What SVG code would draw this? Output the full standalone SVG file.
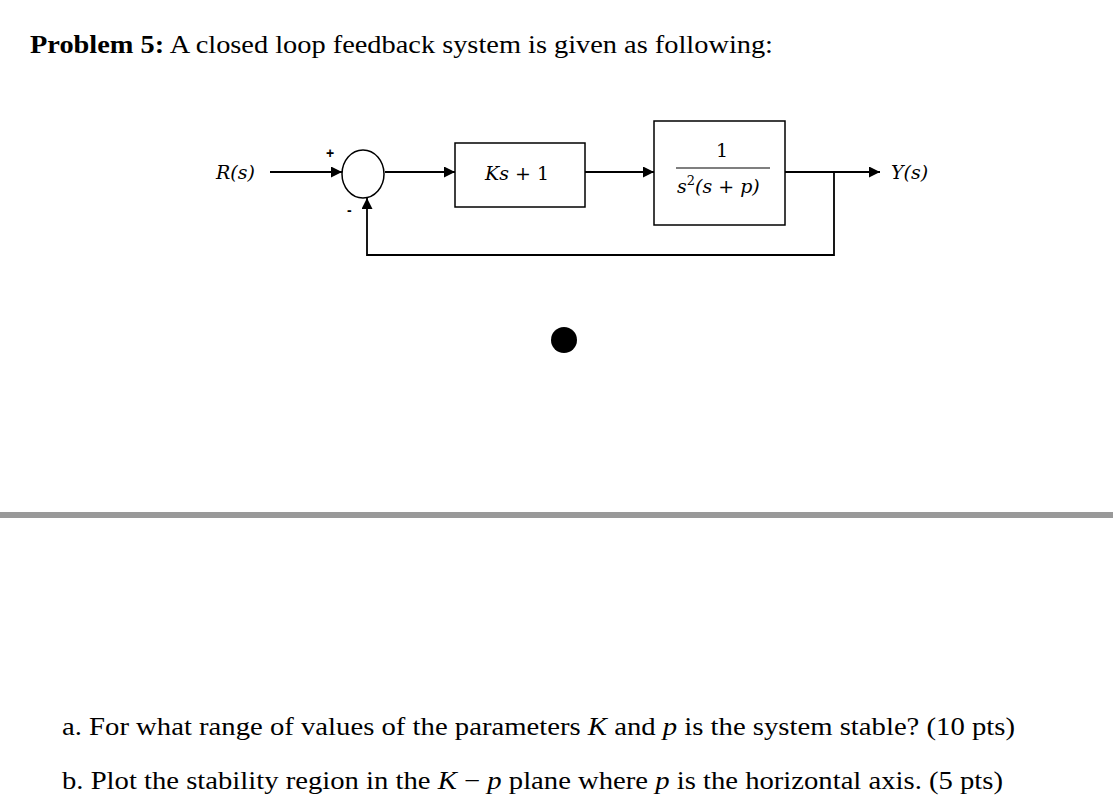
<svg xmlns="http://www.w3.org/2000/svg" width="1113" height="810" viewBox="0 0 1113 810">
<style>
.t{font-family:"Liberation Serif",serif;font-size:25px;fill:#000}
.m{font-family:"DejaVu Serif",serif;font-size:19px;font-style:italic;fill:#000}
.n{font-family:"DejaVu Serif",serif;font-size:19px;fill:#000}
.ln{stroke:#000;stroke-width:1.8;fill:none}
.bx{stroke:#000;stroke-width:1.5;fill:#fff}
</style>
<defs><marker id="b" viewBox="0 0 10 10" refX="10" refY="5" markerWidth="11" markerHeight="11" orient="auto" markerUnits="userSpaceOnUse"><path d="M0,0L10,5L0,10z" fill="#000"/></marker></defs>
<rect width="1113" height="810" fill="#fff"/>
<text x="30" y="53" class="t" textLength="743" lengthAdjust="spacingAndGlyphs"><tspan font-weight="bold">Problem 5:</tspan>  A closed loop feedback system is given as following:</text>
<g id="connectors" class="ln">
<line x1="270" y1="172" x2="342" y2="172" marker-end="url(#b)"/>
<line x1="385" y1="172" x2="455" y2="172" marker-end="url(#b)"/>
<line x1="585" y1="172" x2="654" y2="172" marker-end="url(#b)"/>
<line x1="785" y1="172" x2="880" y2="172" marker-end="url(#b)"/>
<polyline points="834,172 834,255 367,255 367,198" marker-end="url(#b)"/>
</g>
<g id="R"><text x="216" y="179" class="m">R(s)</text></g>
<g id="sum"><ellipse cx="363" cy="174" rx="21" ry="24" class="bx"/>
<text x="326" y="158" font-family="Liberation Sans,sans-serif" font-size="14" font-weight="bold">+</text>
<text x="347" y="215" font-family="Liberation Sans,sans-serif" font-size="14" font-weight="bold">-</text></g>
<g id="box1"><rect x="455" y="143" width="130" height="64" class="bx"/>
<text x="517" y="180" class="m" text-anchor="middle">Ks <tspan font-style="normal">+ 1</tspan></text></g>
<g id="box2"><rect x="654" y="121" width="131" height="104" class="bx"/>
<text x="722" y="157" class="n" text-anchor="middle">1</text>
<line x1="676" y1="168" x2="770" y2="168" stroke="#000" stroke-width="1.2"/>
<text x="677" y="193" class="m">s<tspan font-size="13" dy="-8" font-style="normal">2</tspan><tspan dy="8">(s </tspan><tspan font-style="normal">+</tspan> p)</text></g>
<g id="Y"><text x="891" y="179" class="m">Y(s)</text></g>
<circle cx="564" cy="340" r="13" fill="#000"/>
<rect x="0" y="512" width="1113" height="6" fill="#999"/>
<text x="62" y="735" class="t" textLength="953" lengthAdjust="spacingAndGlyphs">a.  For what range of values of the parameters <tspan font-style="italic">K</tspan> and <tspan font-style="italic">p</tspan> is the system stable? (10 pts)</text>
<text x="62" y="789" class="t" textLength="941" lengthAdjust="spacingAndGlyphs">b.  Plot the stability region in the <tspan font-style="italic">K</tspan> − <tspan font-style="italic">p</tspan> plane where <tspan font-style="italic">p</tspan> is the horizontal axis. (5 pts)</text>
</svg>
